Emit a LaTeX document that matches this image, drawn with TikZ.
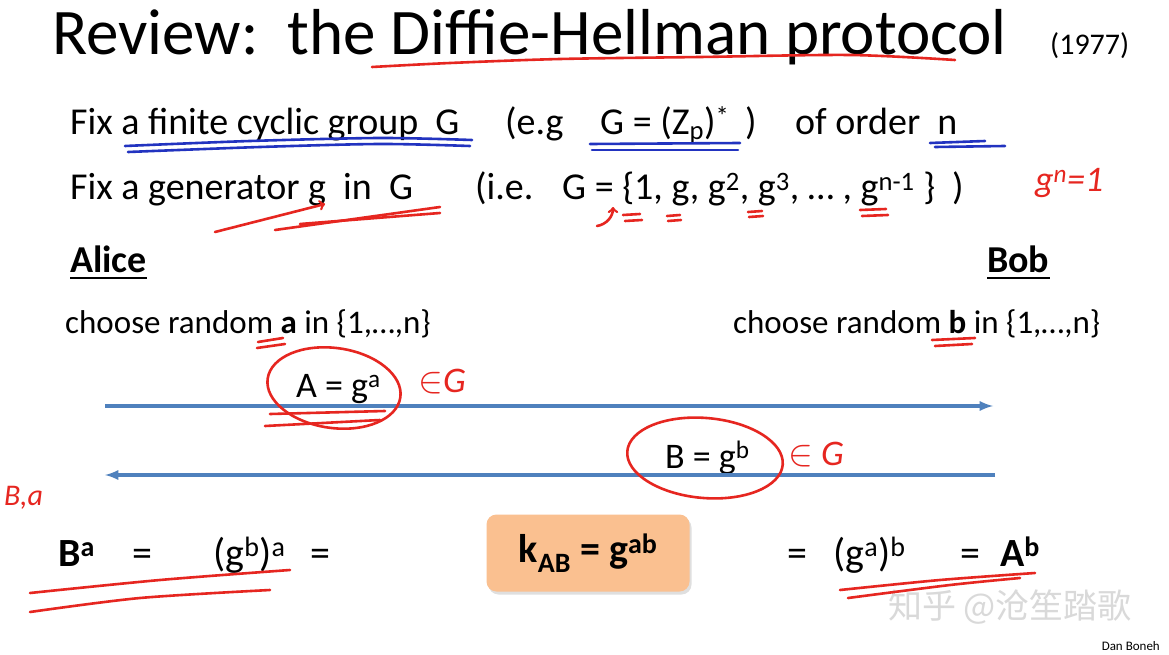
\documentclass[tikz,border=0pt]{standalone}
\usepackage{fontspec}
\setmainfont{Carlito}
\newfontfamily\cjk{Noto Sans CJK SC}
\usetikzlibrary{shadows}
\definecolor{slideblue}{HTML}{4F81BD}
\definecolor{boxorange}{HTML}{FAC090}
\definecolor{inkred}{HTML}{E62620}
\definecolor{inkblue}{HTML}{2233C0}
\def\fs#1{\fontsize{#1}{#1}\selectfont}
\def\bigin{\scalebox{1.5}{$\in$}}

\begin{document}
\begin{tikzpicture}[x=1pt,y=-1pt,
	txt/.style={anchor=base west, inner sep=0pt},
	msg/.style={-latex, slideblue, line width=3.5pt},
	ink/.style={inkred, line width=2.6pt, line cap=round, line join=round},
	blueink/.style={inkblue, line width=2.6pt, line cap=round},
	scrawl/.style={txt, inkred, font=\itshape\fs{36}},
	keybox/.style={fill=boxorange, rounded corners=10pt, minimum width=203pt, minimum height=77pt, inner sep=0pt,
		drop shadow={opacity=0.25, shadow xshift=2pt, shadow yshift=-3pt}}]
			%%%%% START %%%%%
			
			\useasboundingbox[fill=white] (0,0) rectangle (1169,655);
			
			\node[txt, font=\fs{65}] (title) at (52,55) {Review:\ \ the Diffie-Hellman protocol};
			\node[txt, font=\fs{30}] (year) at (1050,55) {(1977)};
			
			\node[txt, font=\fs{38}] (fixgrp) at (70,135) {Fix a finite cyclic group\ \ G};
			\node[txt, font=\fs{38}] (eg) at (505,135) {(e.g};
			\node[txt, font=\fs{38}] (zp) at (600,135) {G = (Z\textsubscript{p})\textsuperscript{*}};
			\node[txt, font=\fs{38}] (close1) at (745,135) {)};
			\node[txt, font=\fs{38}] (order) at (795,135) {of order\ \ n};
			
			\node[txt, font=\fs{38}] (fixgen) at (70,200) {Fix a generator g\ \ in\ \ G};
			\node[txt, font=\fs{38}] (ie) at (475,200) {(i.e.};
			\node[txt, font=\fs{38}] (elems) at (562,200) {G = \{1, g, g\textsuperscript{2}, g\textsuperscript{3}, \dots\ , g\textsuperscript{n-1} \}};
			\node[txt, font=\fs{38}] (close2) at (952,200) {)};
			
			\node[txt, font=\bfseries\fs{38}] (alice) at (70,272) {Alice};
			\node[txt, font=\bfseries\fs{38}] (bob) at (987,272) {Bob};
			\draw[line width=2.5pt] ([yshift=-6pt]alice.base west) -- ([yshift=-6pt]alice.base east);
			\draw[line width=2.5pt] ([yshift=-6pt]bob.base west) -- ([yshift=-6pt]bob.base east);
			
			\node[txt, font=\fs{33}] (randa) at (65,333) {choose random \textbf{a} in \{1,\dots,n\}};
			\node[txt, font=\fs{33}] (randb) at (733,333) {choose random \textbf{b} in \{1,\dots,n\}};
			
			\node[txt, font=\fs{36}] (msgA) at (296,397) {A = g\textsuperscript{a}};
			\coordinate (fromA) at (105,406);
			\coordinate (toB) at (993,406);
			\draw[msg] (fromA) -- (toB);
			
			\node[txt, font=\fs{36}] (msgB) at (665,468) {B = g\textsuperscript{b}};
			\coordinate (fromB) at (995,475);
			\coordinate (toA) at (105,475);
			\draw[msg] (fromB) -- (toA);
			
			\node[txt, font=\bfseries\fs{40}] (Ba) at (58,566) {B\textsuperscript{a}};
			\node[txt, font=\fs{40}] (eqa) at (132,566) {=};
			\node[txt, font=\fs{40}] (gba) at (213,566) {(g\textsuperscript{b})\textsuperscript{a}};
			\node[txt, font=\fs{40}] (eqb) at (310,566) {=};
			\node[keybox, font=\bfseries\fs{40}] (key) at (588,553) {k\textsubscript{AB} = g\textsuperscript{ab}};
			\node[txt, font=\fs{40}] (eqc) at (787,566) {=};
			\node[txt, font=\fs{40}] (gab) at (833,566) {(g\textsuperscript{a})\textsuperscript{b}};
			\node[txt, font=\fs{40}] (eqd) at (960,566) {=};
			\node[txt, font=\bfseries\fs{40}] (Ab) at (1000,566) {A\textsuperscript{b}};
			
			\node[txt, font=\cjk\fs{34}, text=gray!30] (mark) at (888,618) {知乎 @沧笙踏歌};
			\node[anchor=base east, inner sep=0pt, font=\fs{13}] (author) at (1160,650) {Dan Boneh};
			
			% pen notes
			\draw[ink] plot[smooth] coordinates {(372,67) (450,63) (560,59) (700,57) (850,55) (955,60)};
			
			\draw[blueink] plot[smooth] coordinates {(125,146) (250,141) (380,138) (472,140)};
			\draw[blueink] plot[smooth] coordinates {(128,152) (260,147) (380,144) (470,146)};
			\draw[blueink] (590,144) -- (740,143);
			\draw[blueink] (592,150) -- (738,150);
			\draw[blueink] (930,143) -- (985,141);
			\draw[blueink] (935,147) -- (1005,146);
			\node[scrawl] (gn) at (1035,192) {g\textsuperscript{n}=1};
			
			\draw[ink, ->] (215,232) -- (325,204);
			\draw[ink] (275,230) -- (440,207);
			\draw[ink] (300,224) -- (440,213);
			\draw[ink, ->] (597,226) to[bend right=40] (613,207);
			\draw[ink] (623,215) -- (640,214);
			\draw[ink] (625,221) -- (642,220);
			\draw[ink] (667,216) -- (680,215);
			\draw[ink] (668,221) -- (681,220);
			\draw[ink] (748,212) -- (762,211);
			\draw[ink] (749,217) -- (763,216);
			\draw[ink] (860,210) -- (886,209);
			\draw[ink] (862,216) -- (888,215);
			
			\draw[ink] (258,342) -- (283,338);
			\draw[ink] (257,348) -- (285,344);
			\draw[ink] (932,340) -- (975,338);
			\draw[ink] (935,346) -- (972,344);
			
			\draw[ink, rotate around={-8:(334,388)}] (334,388) ellipse (67 and 40);
			\node[scrawl] (inG1) at (418,392) {\bigin G};
			\draw[ink] (270,414) -- (385,411);
			\draw[ink] (265,426) -- (380,420);
			
			\draw[ink, rotate around={-5:(705,458)}] (705,458) ellipse (78 and 40);
			\node[scrawl] (inG2) at (788,465) {\bigin\ G};
			\node[scrawl, font=\itshape\fs{30}] (note) at (4,505) {B,a};
			
			\draw[ink] plot[smooth] coordinates {(30,593) (160,580) (290,570)};
			\draw[ink] plot[smooth] coordinates {(30,612) (140,598) (270,590)};
			\draw[ink] plot[smooth] coordinates {(840,590) (940,580) (1035,573)};
			\draw[ink] plot[smooth] coordinates {(848,598) (950,585) (1020,578)};
			
			%%%%% END %%%%%
\end{tikzpicture}
\end{document}
